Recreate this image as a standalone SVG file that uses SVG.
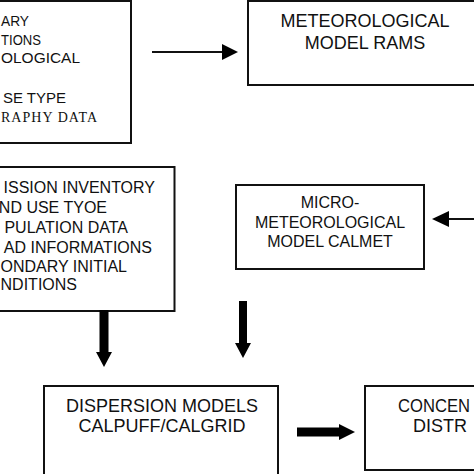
<svg xmlns="http://www.w3.org/2000/svg" width="474" height="474" viewBox="0 0 474 474">
<style>
.box{fill:#fff;stroke:#111;stroke-width:2}
.t{font-family:"Liberation Sans",Arial,sans-serif;fill:#111}
.s{font-family:"Liberation Serif","Times New Roman",serif;fill:#111}
.ln{stroke:#111;stroke-width:2;fill:none}
.ah{fill:#000}
</style>
<rect width="474" height="474" fill="#fff"/>
<g id="node-inputs">
<rect class="box" x="-10" y="1" width="141" height="142"/>
<g class="t" font-size="15">
<text x="1" y="26" textLength="28" lengthAdjust="spacingAndGlyphs">ARY</text>
<text x="1" y="44.5" textLength="40" lengthAdjust="spacingAndGlyphs">TIONS</text>
<text x="1" y="63" textLength="79" lengthAdjust="spacingAndGlyphs">OLOGICAL</text>
<text x="66" y="102.5" text-anchor="end">SE TYPE</text>
</g>
<text class="s" font-size="14" x="1" y="121.5" textLength="96" lengthAdjust="spacing">RAPHY DATA</text>
</g>
<g id="node-rams">
<rect class="box" x="248" y="1" width="240" height="84"/>
<g class="t" font-size="18" text-anchor="middle">
<text x="365" y="27">METEOROLOGICAL</text>
<text x="365" y="49">MODEL RAMS</text>
</g>
</g>
<g id="node-emission">
<rect class="box" x="-10" y="167" width="184.5" height="144"/>
<g class="t" font-size="16" text-anchor="end">
<text x="155" y="193.3">ISSION INVENTORY</text>
<text x="107" y="213.3">ND USE TYOE</text>
<text x="128" y="233.3">PULATION DATA</text>
<text x="152" y="252.7">AD INFORMATIONS</text>
<text x="127" y="271.7">ONDARY INITIAL</text>
<text x="77" y="290">NDITIONS</text>
</g>
</g>
<g id="node-calmet">
<rect class="box" x="236" y="185" width="188" height="84"/>
<g class="t" font-size="16" text-anchor="middle">
<text x="330" y="208.3">MICRO-</text>
<text x="330" y="228.3">METEOROLOGICAL</text>
<text x="330" y="247.3">MODEL CALMET</text>
</g>
</g>
<g id="node-dispersion">
<rect class="box" x="44" y="386" width="234" height="120"/>
<g class="t" font-size="18" text-anchor="middle">
<text x="162" y="411.7">DISPERSION MODELS</text>
<text x="162" y="431.7">CALPUFF/CALGRID</text>
</g>
</g>
<g id="node-concentration">
<rect class="box" x="365" y="386" width="200" height="84"/>
<g class="t" font-size="18">
<text x="398" y="412" textLength="72" lengthAdjust="spacingAndGlyphs">CONCEN</text>
<text x="413" y="432">DISTR</text>
</g>
</g>
<g id="connectors">
<line class="ln" x1="152" y1="52" x2="223" y2="52"/>
<polygon class="ah" points="222,44 238,52 222,60"/>
<line class="ln" x1="474" y1="219" x2="448" y2="219"/>
<polygon class="ah" points="449,211 432,219 449,227"/>
<rect class="ah" x="99.5" y="310" width="9" height="43"/>
<polygon class="ah" points="96,352 112,352 104,367"/>
<rect class="ah" x="239" y="301" width="8" height="43"/>
<polygon class="ah" points="235,343 251,343 243,358"/>
<rect class="ah" x="297" y="427.5" width="43" height="9"/>
<polygon class="ah" points="339,424 355,432 339,440"/>
</g>
</svg>
